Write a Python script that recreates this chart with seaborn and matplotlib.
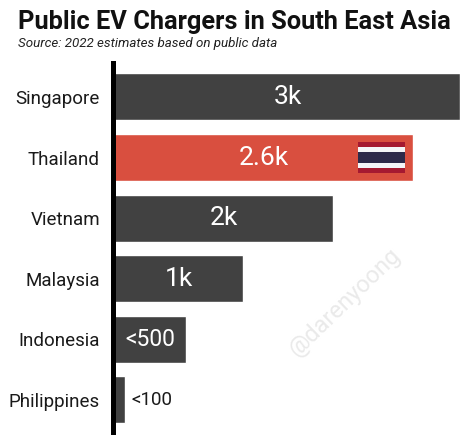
import matplotlib
matplotlib.use('Agg')
import matplotlib.pyplot as plt
import seaborn as sns
import pandas as pd

countries = ['Singapore', 'Thailand', 'Vietnam', 'Malaysia', 'Indonesia', 'Philippines']
chargers = [3000, 2594, 1904, 1127, 635, 108]
bar_labels = ['3k', '2.6k', '2k', '1k', '<500', '<100']
bar_colors = ['#414141', '#d94f3f', '#414141', '#414141', '#414141', '#414141']
flag_colors = ['#a51931', '#f4f5f8', '#2d2a4a', '#2d2a4a', '#f4f5f8', '#a51931']

sns.set_theme(style='white')
plt.rcParams['font.family'] = ['Roboto', 'DejaVu Sans']

W, H = 474, 445
df = pd.DataFrame({'country': countries, 'chargers': chargers})

fig = plt.figure(figsize=(W / 100, H / 100), dpi=100)
ax = fig.add_axes([112.5 / W, 1 - 432 / H, 347.5 / W, 369 / H])

sns.barplot(data=df, x='chargers', y='country', hue='country', palette=bar_colors,
            legend=False, width=0.775, saturation=1, ax=ax)
ax.set_xlim(0, 3000)
ax.set_ylim(5.53, -0.56)
ax.set_xlabel('')
ax.set_ylabel('')
ax.set_xticks([])
ax.tick_params(axis='y', length=0, pad=9, labelsize=13.5, labelcolor='#1a1a1a')
sns.despine(ax=ax, top=True, right=True, bottom=True)
ax.spines['left'].set_linewidth(3.6)
ax.spines['left'].set_color('black')
ax.spines['left'].set_zorder(5)

# labels sit inside the bar, except the tiny one
for i, (val, lab) in enumerate(zip(chargers, bar_labels)):
    if val > 300:
        ax.text((val + 20) / 2, i, lab, color='white', fontsize=19 if i < 4 else 16.5,
                ha='center', va='center')
    else:
        ax.text(val + 56, i, lab, color='#1a1a1a', fontsize=13.5, ha='left', va='center')

# thai flag
flag_ax = fig.add_axes([358 / W, 1 - 173 / H, 47 / W, 31 / H])
flag_rgb = [[matplotlib.colors.to_rgb(c)] for c in flag_colors]
flag_ax.imshow(flag_rgb, aspect='auto', interpolation='nearest')
flag_ax.axis('off')

fig.text(18 / W, 1 - 29 / H, 'Public EV Chargers in South East Asia', fontsize=18.3,
         fontweight='bold', color='#111111', ha='left', va='baseline')
fig.text(18 / W, 1 - 47 / H, 'Source: 2022 estimates based on public data', fontsize=9.6,
         fontstyle='italic', color='#222222', ha='left', va='baseline')
fig.text(345 / W, 1 - 302 / H, '@darenyoong', fontsize=17, color='#eaeaea', rotation=44,
         ha='center', va='center')

fig.savefig('out.png', dpi=100)
